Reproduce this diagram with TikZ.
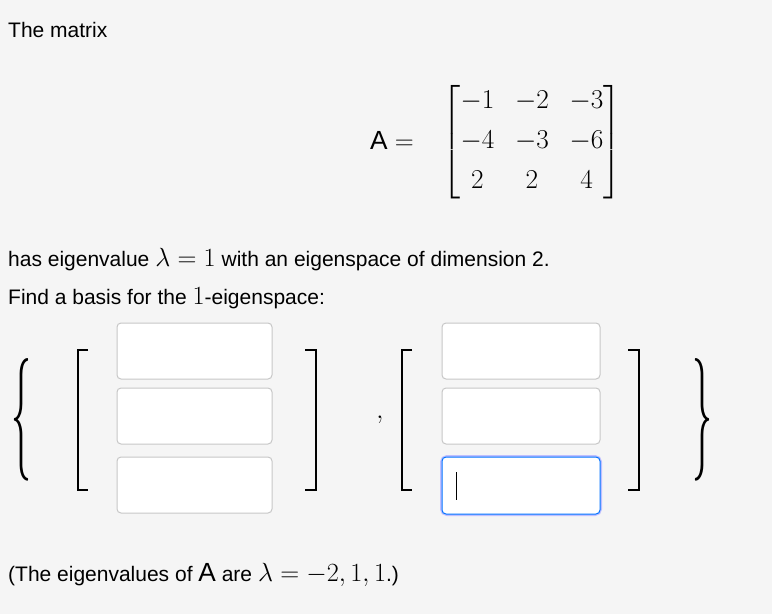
\RequirePackage{fix-cm}
\documentclass[tikz,border=0pt]{standalone}
\usepackage{amsmath}
\usepackage{graphicx}
\usepackage{fontspec}
\setmainfont{Liberation Sans}
\newcommand{\mymath}[1]{\scalebox{1.25}{$#1$}}
\begin{document}
\begin{tikzpicture}[x=1pt,y=-1pt,
  txt/.style={anchor=west,inner sep=0pt,font=\fontsize{21}{25}\selectfont},
  mth/.style={inner sep=0pt,font=\fontsize{21}{25}\selectfont},
  inbox/.style={draw=black!22,fill=white,rounded corners=4pt,line width=1pt},
  brk/.style={line width=1.2pt}]
\useasboundingbox[fill=black!4] (0,0) rectangle (772,614);
\node[txt] (t1) at (8,30) {The matrix};
\node[mth,anchor=east] (A) at (414,140) {\mymath{\mathrm{A} =}};
\node[mth] (m) at (532,142) {\scalebox{1.3}{$\setlength{\arraycolsep}{8pt}\begin{bmatrix}-1&-2&-3\\[6pt]-4&-3&-6\\[6pt]2&2&4\end{bmatrix}$}};
\node[txt] (t2) at (8,260) {has eigenvalue \mymath{\lambda = 1} with an eigenspace of dimension 2.};
\node[txt] (t3) at (8,298) {Find a basis for the \mymath{1}-eigenspace:};
\node[inner sep=0pt] (lb) at (22,420) {\resizebox{20pt}{92pt}{$\{$}};
\node[inner sep=0pt] (rb) at (702,420) {\resizebox{20pt}{92pt}{$\}$}};
\draw[brk] (88,350) -- (78,350) -- (78,490) -- (88,490);
\draw[brk] (305,350) -- (316,350) -- (316,490) -- (305,490);
\draw[brk] (412,350) -- (402,350) -- (402,490) -- (412,490);
\draw[brk] (628,350) -- (639,350) -- (639,490) -- (628,490);
\node[mth] (cm) at (380,420) {\mymath{,}};
\foreach \y [count=\i] in {323,388,457}{
  \draw[inbox] (117,\y) rectangle (272,\y+56);
}
\draw[inbox] (442,323) rectangle (600,379);
\draw[inbox] (442,388) rectangle (600,444);
\draw[draw=blue!25,line width=4pt,rounded corners=5pt] (442,457) rectangle (600,514);
\draw[inbox,draw=blue!55!cyan] (442,457) rectangle (600,514);
\draw[line width=0.9pt] (456,472) -- (456,500);
\node[txt] (t4) at (8,575) {(The eigenvalues of \mymath{\mathrm{A}} are \mymath{\lambda = -2, 1, 1}.)};
\end{tikzpicture}
\end{document}
